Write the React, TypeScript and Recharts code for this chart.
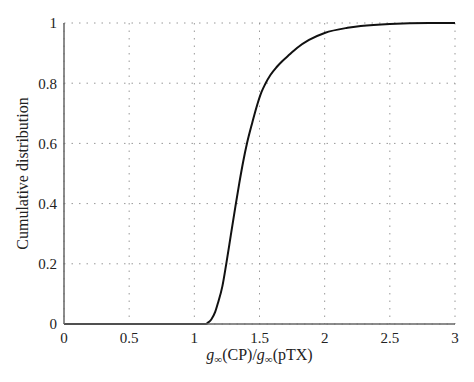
import React from "react";
import { LineChart, Line, XAxis, YAxis, CartesianGrid } from "recharts";

const xValues = [0, 1.0, 1.09, 1.1, 1.13, 1.16, 1.18, 1.215, 1.245, 1.28, 1.315, 1.345, 1.375, 1.405, 1.444, 1.477, 1.515, 1.545, 1.585, 1.63, 1.674, 1.73, 1.79, 1.88, 2.0, 2.175, 2.277, 2.5, 2.8, 3.0];
const cdfValues = [0, 0, 0, 0.003, 0.015, 0.04, 0.068, 0.125, 0.2, 0.295, 0.39, 0.468, 0.54, 0.602, 0.668, 0.72, 0.77, 0.798, 0.828, 0.853, 0.873, 0.895, 0.918, 0.944, 0.967, 0.984, 0.99, 0.997, 1.0, 1.0];
const xTicks = [0, 0.5, 1, 1.5, 2, 2.5, 3];
const yTicks = [0, 0.2, 0.4, 0.6, 0.8, 1];

const data = xValues.map((x, i) => ({ x, y: cdfValues[i] }));

const FONT = "'Liberation Serif', 'DejaVu Serif', serif";
const TEXT = "#222";
const AXIS = "#666";

const XLabel = (props: any) => {
  const vb = props.viewBox || {};
  const cx = vb.x + vb.width / 2;
  return (
    <text x={cx} y={352} textAnchor="middle" fontFamily={FONT} fontSize={16} fill={TEXT}>
      <tspan fontStyle="italic">g</tspan>
      <tspan fontSize={11} dy={3}>∞</tspan>
      <tspan dy={-3}>(CP)/</tspan>
      <tspan fontStyle="italic">g</tspan>
      <tspan fontSize={11} dy={3}>∞</tspan>
      <tspan dy={-3}>(pTX)</tspan>
    </text>
  );
};

const YLabel = (props: any) => {
  const vb = props.viewBox || {};
  const cy = vb.y + vb.height / 2;
  return (
    <text
      x={0}
      y={0}
      transform={`translate(20, ${cy}) rotate(-90)`}
      textAnchor="middle"
      fontFamily={FONT}
      fontSize={16}
      fill={TEXT}
    >
      Cumulative distribution
    </text>
  );
};

export default function App() {
  return (
    <LineChart
      width={466}
      height={374}
      data={data}
      margin={{ top: 15, right: 19, left: 0, bottom: 0 }}
    >
      <CartesianGrid stroke="#999" strokeDasharray="1.5 6" strokeWidth={1} />
      <XAxis
        dataKey="x"
        type="number"
        domain={[0, 3]}
        ticks={xTicks}
        height={58}
        tickLine={false}
        tickSize={0}
        tickMargin={8}
        axisLine={{ stroke: AXIS, strokeWidth: 1.5 }}
        tick={{ fontFamily: FONT, fontSize: 15, fill: TEXT }}
        label={<XLabel />}
      />
      <XAxis
        xAxisId="top"
        dataKey="x"
        type="number"
        domain={[0, 3]}
        orientation="top"
        height={0}
        tick={false}
        tickLine={false}
        axisLine={{ stroke: AXIS, strokeWidth: 1.5 }}
      />
      <YAxis
        type="number"
        domain={[0, 1]}
        ticks={yTicks}
        width={56}
        tickLine={false}
        tickSize={0}
        tickMargin={7}
        axisLine={{ stroke: AXIS, strokeWidth: 1.5 }}
        tick={{ fontFamily: FONT, fontSize: 15, fill: TEXT }}
        label={<YLabel />}
      />
      <YAxis
        yAxisId="right"
        type="number"
        domain={[0, 1]}
        orientation="right"
        width={0}
        tick={false}
        tickLine={false}
        axisLine={{ stroke: AXIS, strokeWidth: 1.5 }}
      />
      <Line
        type="monotone"
        dataKey="y"
        stroke="#111"
        strokeWidth={2}
        dot={false}
        isAnimationActive={false}
      />
    </LineChart>
  );
}
